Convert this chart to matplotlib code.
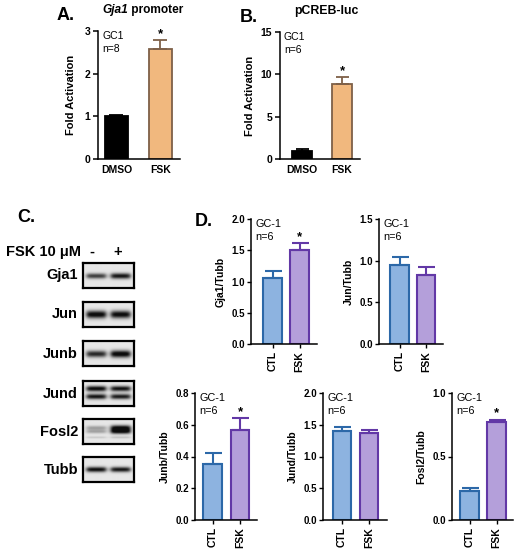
import numpy as np
import matplotlib
matplotlib.use("Agg")
import matplotlib.pyplot as plt

plt.rcParams['font.family'] = ['Liberation Sans', 'DejaVu Sans']

# ---------------- data ----------------
ab_groups = ["DMSO", "FSK"]
a_means = [1.0, 2.57]
a_errs = [0.04, 0.22]
b_means = [1.0, 8.8]
b_errs = [0.15, 0.9]

d_groups = ["CTL", "FSK"]
d_names = ["Gja1/Tubb", "Jun/Tubb", "Junb/Tubb", "Jund/Tubb", "Fosl2/Tubb"]
d_means = {
    "Gja1/Tubb": [1.06, 1.51],
    "Jun/Tubb": [0.95, 0.83],
    "Junb/Tubb": [0.35, 0.57],
    "Jund/Tubb": [1.40, 1.37],
    "Fosl2/Tubb": [0.23, 0.77],
}
d_errs = {
    "Gja1/Tubb": [0.11, 0.11],
    "Jun/Tubb": [0.09, 0.10],
    "Junb/Tubb": [0.07, 0.07],
    "Jund/Tubb": [0.06, 0.05],
    "Fosl2/Tubb": [0.02, 0.02],
}
d_sig = {"Gja1/Tubb": True, "Jun/Tubb": False, "Junb/Tubb": True,
         "Jund/Tubb": False, "Fosl2/Tubb": True}
d_ylim = {"Gja1/Tubb": 2.0, "Jun/Tubb": 1.5, "Junb/Tubb": 0.8,
          "Jund/Tubb": 2.0, "Fosl2/Tubb": 1.0}
d_ticks = {
    "Gja1/Tubb": [0.0, 0.5, 1.0, 1.5, 2.0],
    "Jun/Tubb": [0.0, 0.5, 1.0, 1.5],
    "Junb/Tubb": [0.0, 0.2, 0.4, 0.6, 0.8],
    "Jund/Tubb": [0.0, 0.5, 1.0, 1.5, 2.0],
    "Fosl2/Tubb": [0.0, 0.5, 1.0],
}

blot_names = ["Gja1", "Jun", "Junb", "Jund", "Fosl2", "Tubb"]
# band intensities: per blot, list of bands (y-position in box fraction, thickness, [lane-, lane+])
blot_bands = {
    "Gja1": [(0.52, 0.10, [0.70, 0.88])],
    "Jun": [(0.50, 0.13, [0.97, 0.95])],
    "Junb": [(0.52, 0.12, [0.80, 1.00])],
    "Jund": [(0.33, 0.09, [0.95, 0.90]), (0.64, 0.09, [0.88, 0.85])],
    "Fosl2": [(0.38, 0.09, [0.30, 0.95]), (0.52, 0.08, [0.28, 0.90]),
              (0.75, 0.05, [0.12, 0.15])],
    "Tubb": [(0.50, 0.09, [0.92, 0.88])],
}

# ---------------- figure ----------------
W, H = 517, 550
fig = plt.figure(figsize=(W / 100, H / 100), dpi=100)


def px_axes(x0, ytop, x1, ybot):
    return fig.add_axes([x0 / W, 1 - ybot / H, (x1 - x0) / W, (ybot - ytop) / H])


def style_axes(ax, lw=1.1):
    for s in ["top", "right"]:
        ax.spines[s].set_visible(False)
    for s in ["left", "bottom"]:
        ax.spines[s].set_linewidth(lw)


def bar_panel(ax, means, errs, fills, edges, xlim, width, sig, lw=1.3):
    x = np.arange(len(means))
    ax.bar(x, means, width=width, color=fills, edgecolor=edges, linewidth=lw, zorder=2)
    for xi, m, e, c in zip(x, means, errs, edges):
        ax.errorbar([xi], [m], yerr=[[0], [e]], fmt="none", ecolor=c,
                    elinewidth=lw, capsize=width * 9, capthick=lw, zorder=3)
    for xi, m, e, s in zip(x, means, errs, sig):
        if s:
            ax.annotate("*", (xi, m + e), xytext=(0, 0), textcoords="offset points",
                        ha="center", va="bottom", fontsize=9.5, fontweight="bold")
    ax.set_xlim(*xlim)
    ax.set_xticks(x)


# ---- Panel A ----
BLACK = "#000000"
ORANGE = "#F1B87E"
BROWN = "#7E6048"
axA = px_axes(98, 31, 180, 159)
style_axes(axA)
bar_panel(axA, a_means, a_errs, [BLACK, ORANGE], [BLACK, BROWN], (-0.42, 1.45), 0.53,
          [False, True])
axA.set_ylim(0, 3)
axA.set_yticks([0, 1, 2, 3])
axA.set_xticklabels(ab_groups, fontsize=7.5, fontweight="bold")
axA.tick_params(axis="x", length=0, pad=4)
axA.tick_params(axis="y", length=3.5, width=1.1, pad=2, labelsize=7.5)
for t in axA.get_yticklabels():
    t.set_fontweight("bold")
axA.set_ylabel("Fold Activation", fontsize=8, fontweight="bold", labelpad=6)
axA.text(0.05, 1.0, "GC1\nn=8", transform=axA.transAxes, fontsize=7.5, va="top",
         ha="left", linespacing=1.4)
t1 = fig.text(102 / W, 1 - 10 / H, "Gja1", fontsize=8.6, fontweight="bold",
              style="italic", ha="left", va="center")
axA.annotate(" promoter", xy=(1, 0.5), xycoords=t1, ha="left", va="center",
             fontsize=8.6, fontweight="bold")
fig.text(57 / W, 1 - 15 / H, "A.", fontsize=13, fontweight="bold", ha="left", va="center")

# ---- Panel B ----
axB = px_axes(280, 32, 360, 159)
style_axes(axB)
bar_panel(axB, b_means, b_errs, [BLACK, ORANGE], [BLACK, BROWN], (-0.55, 1.45), 0.52,
          [False, True])
axB.set_ylim(0, 15)
axB.set_yticks([0, 5, 10, 15])
axB.set_xticklabels(ab_groups, fontsize=7.5, fontweight="bold")
axB.tick_params(axis="x", length=0, pad=4)
axB.tick_params(axis="y", length=3.5, width=1.1, pad=2, labelsize=7.5)
for t in axB.get_yticklabels():
    t.set_fontweight("bold")
axB.set_ylabel("Fold Activation", fontsize=8, fontweight="bold", labelpad=4)
axB.text(0.05, 1.0, "GC1\nn=6", transform=axB.transAxes, fontsize=7.5, va="top",
         ha="left", linespacing=1.4)
fig.text(326 / W, 1 - 11 / H, "pCREB-luc", fontsize=8.8, fontweight="bold",
         ha="center", va="center")
fig.text(240 / W, 1 - 18 / H, "B.", fontsize=13, fontweight="bold", ha="left", va="center")

# ---- Panel C (western blots) ----
fig.text(17 / W, 1 - 218 / H, "C.", fontsize=13, fontweight="bold", ha="left", va="center")
fig.text(6 / W, 1 - 252 / H, "FSK 10 \u03bcM", fontsize=10.5, fontweight="bold",
         ha="left", va="center")
fig.text(92 / W, 1 - 252 / H, "-", fontsize=10.5, fontweight="bold", ha="center", va="center")
fig.text(118 / W, 1 - 252 / H, "+", fontsize=10.5, fontweight="bold", ha="center", va="center")

blot_tops = [263, 302, 341, 381, 419, 457]
blot_h = 25
gx = np.linspace(0, 1, 120)
gy = np.linspace(0, 1, 50)
XX, YY = np.meshgrid(gx, gy)
lane_c = [0.26, 0.74]
lane_w = 0.19
for name, top in zip(blot_names, blot_tops):
    ax = px_axes(83, top, 134, top + blot_h)
    img = np.full_like(XX, 0.10)
    for (yc, th, ints) in blot_bands[name]:
        for lc, inten in zip(lane_c, ints):
            hx = 1 / (1 + np.exp((np.abs(XX - lc) - lane_w) / 0.025))
            vy = np.exp(-((YY - yc) / (th * (0.8 + 0.4 * inten))) ** 2)
            img = img + inten * hx * vy
    img = np.clip(img, 0, 1)
    ax.imshow(img, cmap="gray_r", vmin=0, vmax=1.05, aspect="auto",
              extent=(0, 1, 1, 0), interpolation="bilinear")
    ax.set_xticks([])
    ax.set_yticks([])
    for s in ax.spines.values():
        s.set_linewidth(1.6)
    fig.text(78 / W, 1 - (top + blot_h / 2) / H, name, fontsize=10.5, fontweight="bold",
             ha="right", va="center")

# ---- Panel D ----
fig.text(195 / W, 1 - 222 / H, "D.", fontsize=13, fontweight="bold", ha="left", va="center")
BLUE = "#8DB3E0"
BLUE_E = "#2C68A8"
PURP = "#B49FDA"
PURP_E = "#6238A6"

d_layout = {
    # name: (spine x, right x, top y, bottom y, first bar center, second bar center)
    "Gja1/Tubb": (251, 317, 219, 344, 272.5, 299.5),
    "Jun/Tubb": (379, 443, 219, 344, 399.5, 426.0),
    "Junb/Tubb": (195, 257, 393, 520, 212.5, 240.0),
    "Jund/Tubb": (323, 387, 393, 520, 342.0, 369.0),
    "Fosl2/Tubb": (452, 513, 393, 520, 469.5, 496.5),
}
for name in d_names:
    x0, x1, yt, yb, c0, c1 = d_layout[name]
    ax = px_axes(x0, yt, x1, yb)
    style_axes(ax, lw=1.1)
    sp = c1 - c0
    xlim = ((x0 - c0) / sp, 1 + (x1 - c1) / sp)
    bar_panel(ax, d_means[name], d_errs[name], [BLUE, PURP], [BLUE_E, PURP_E], xlim,
              0.68, [False, d_sig[name]], lw=1.5)
    ax.set_ylim(0, d_ylim[name])
    ax.set_yticks(d_ticks[name])
    ax.set_yticklabels(["%.1f" % v for v in d_ticks[name]], fontsize=7,
                       fontweight="bold")
    ax.set_xticklabels(d_groups, rotation=90, fontsize=7.5, fontweight="bold")
    ax.tick_params(axis="x", length=3, width=1.0, pad=2)
    ax.tick_params(axis="y", length=3, width=1.0, pad=1.5)
    ax.set_ylabel(name, fontsize=7.5, fontweight="bold", labelpad=4)
    ax.text(0.07, 1.0, "GC-1\nn=6", transform=ax.transAxes, fontsize=7.8, va="top",
            ha="left", linespacing=1.35)

fig.savefig("out.png", dpi=100)
